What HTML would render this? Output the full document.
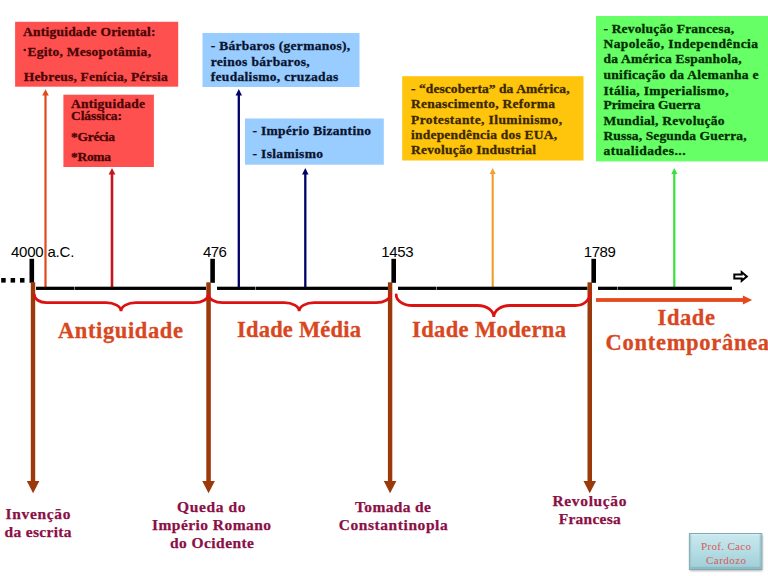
<!DOCTYPE html>
<html><head><meta charset="utf-8"><title>Linha do tempo</title>
<style>
html,body{margin:0;padding:0;background:#fff;width:768px;height:576px;overflow:hidden}
svg{display:block;position:absolute;left:0;top:0}
text{font-family:"Liberation Serif",serif;font-weight:bold;white-space:pre}
.b{font-size:13.5px;stroke-width:0.3px}
.s text{font-family:"Liberation Sans",sans-serif;font-weight:normal;font-size:15px;fill:#000}
.era{font-size:22.5px;fill:#D8481F;stroke:#D8481F;stroke-width:0.3px}
.ev{font-size:15.5px;fill:#8A1046;stroke:#8A1046;stroke-width:0.25px}
</style></head><body>
<svg width="768" height="576" viewBox="0 0 768 576">
<defs>
<linearGradient id="btn" x1="0" y1="0" x2="0" y2="1">
<stop offset="0" stop-color="#C9E9EE"/><stop offset="0.5" stop-color="#B4DDE4"/><stop offset="1" stop-color="#9FCDD6"/>
</linearGradient>
<filter id="blur" x="-20%" y="-20%" width="140%" height="140%"><feGaussianBlur stdDeviation="1.2"/></filter>
</defs>
<!-- boxes -->
<rect x="15.100" y="21.800" width="163.100" height="64.900" fill="#FF5050"/>
<rect x="63.400" y="94.700" width="90.500" height="72.300" fill="#FF5050"/>
<rect x="202.5" y="33" width="157" height="54" fill="#99CCFF"/>
<rect x="245" y="118.5" width="138.800" height="46.200" fill="#99CCFF"/>
<rect x="402.200" y="76.200" width="181.300" height="84.300" fill="#FFC40C"/>
<rect x="596" y="16" width="172" height="145.400" fill="#66FF66"/>

<!-- thin coloured arrows -->
<g fill="none" stroke-width="2.2">
<line x1="45.5" y1="94" x2="45.5" y2="288" stroke="#E2491B" stroke-width="2.200"/>
<line x1="112" y1="173" x2="112" y2="288" stroke="#C4161C" stroke-width="2.600"/>
<line x1="238.8" y1="94" x2="238.8" y2="288" stroke="#00006A" stroke-width="2.300"/>
<line x1="305.3" y1="173" x2="305.3" y2="288" stroke="#00006A" stroke-width="2.300"/>
<line x1="492.700" y1="173" x2="492.700" y2="288" stroke="#F0A030"/>
<line x1="674.3" y1="173" x2="674.3" y2="288" stroke="#38E038"/>
</g>
<path d="M45.5 89.200l3.300 6.300h-6.600z" fill="#E2491B"/>
<path d="M112 168l3.400 6.500h-6.800z" fill="#C4161C"/>
<path d="M238.8 89l3.2 6.5h-6.4z" fill="#00006A"/>
<path d="M305.3 168l3.2 6.5h-6.4z" fill="#00006A"/>
<path d="M492.700 168l3 6h-6z" fill="#F0A030"/>
<path d="M674.3 168l3 6h-6z" fill="#38E038"/>

<!-- main black timeline -->
<g fill="#000">
<rect x="36" y="286.700" width="38.300" height="3.250"/>
<rect x="74.700" y="286.700" width="131.300" height="3.250"/>
<rect x="217" y="286.700" width="38.300" height="3.250"/>
<rect x="255.700" y="286.700" width="132.300" height="3.250"/>
<rect x="398" y="286.700" width="38.300" height="3.250"/>
<rect x="436.700" y="286.700" width="150.800" height="3.250"/>
<rect x="598" y="286.700" width="19.300" height="3.250"/>
<rect x="617.700" y="286.700" width="114.300" height="3.250"/>
<!-- ticks -->
<rect x="29.5" y="258.8" width="4.6" height="24"/>
<rect x="210.3" y="258.8" width="4.6" height="24"/>
<rect x="391.4" y="258.8" width="4.6" height="24"/>
<rect x="591.4" y="258.8" width="4.6" height="24"/>
<!-- dots -->
<rect x="1.200" y="278" width="4.500" height="4.600"/>
<rect x="10.600" y="278" width="4.500" height="4.600"/>
<rect x="20" y="278" width="4.500" height="4.600"/>
</g>
<!-- hollow arrow -->
<path d="M734.300 274.400h7.400v-2.300l5.100 4.350-5.100 4.350v-2.300h-7.400z" fill="#fff" stroke="#000" stroke-width="2" stroke-linejoin="miter"/>

<!-- red arrow for contemporary age -->
<rect x="596" y="298.100" width="148.500" height="3.800" fill="#E6471B"/>
<path d="M752.200 300l-9.300-4.500v9z" fill="#E6471B"/>

<!-- brown event arrows -->
<g fill="#9B390A">
<rect x="30.800" y="282.300" width="4.400" height="200"/>
<rect x="206.300" y="282.300" width="4.500" height="200"/>
<rect x="387.900" y="282.300" width="4.400" height="200"/>
<rect x="587.500" y="282.300" width="4.500" height="200"/>
<path d="M26.800 481h12.600l-6.300 12.300z"/>
<path d="M202.250 481h12.600l-6.300 12.300z"/>
<path d="M383.800 481h12.600l-6.300 12.300z"/>
<path d="M583.450 481h12.600l-6.300 12.300z"/>
</g>

<!-- braces 1-2 (over brown) -->
<g fill="none" stroke="#DC1212" stroke-width="2.800" stroke-linecap="round">
<path d="M34.2 294.6C34.2 299 39.6 302.6 46.2 302.6H106C114.25 302.6 121 306.52 121 311.3C121 306.52 127.75 302.6 136 302.6H194.4C202.1 302.6 208.4 298.91 208.4 294.4"/>
<path d="M208.4 294.4C208.4 298.91 214.7 302.6 222.4 302.6H284.2C292.45 302.6 299.2 306.52 299.2 311.3C299.2 306.52 305.95 302.6 314.2 302.6H376.4C384.1 302.6 390.4 298.91 390.4 294.4"/>
</g>
<!-- brace 3 (under brown) -->
<g fill="none" stroke="#DC1212" stroke-width="2.800" stroke-linecap="round">
<path d="M396.2 294.8C396.2 300.74 403.4 305.5 412.2 305.5H477.8C486.6 305.5 493.8 310.6 493.8 317C493.8 310.6 501 305.5 509.8 305.5H575.5C583.5 305.5 590 300.1 590 293.4"/>
</g>
<!-- year labels -->
<g class="s">
<text x="11" y="256.600" textLength="63.300">4000 a.C.</text>
<text x="203" y="256.600" textLength="23.800">476</text>
<text x="381.300" y="256.600" textLength="32.200">1453</text>
<text x="583.700" y="256.600" textLength="32.200">1789</text>
</g>

<!-- box 1/2 text -->
<g class="b" fill="#4A0505" stroke="#4A0505">
<text x="23" y="36" textLength="132.500">Antiguidade Oriental:</text>
<circle cx="24.800" cy="50" r="1.300" stroke="none"/><text x="27.500" y="56" textLength="123.500">Egito, Mesopotâmia,</text>
<text x="23.750" y="80.750" textLength="144">Hebreus, Fenícia, Pérsia</text>
<text x="71" y="108" textLength="74">Antiguidade</text>
<text x="71" y="120" textLength="51">Clássica:</text>
<text x="71" y="140.750" textLength="44">*Grécia</text>
<text x="71" y="160.750" textLength="40">*Roma</text>
</g>
<!-- blue boxes text -->
<g class="b" fill="#0A1430" stroke="#0A1430">
<text x="210.700" y="50" textLength="139.500">- Bárbaros (germanos),</text>
<text x="210.700" y="65.500" textLength="99">reinos bárbaros,</text>
<text x="210.700" y="80.500" textLength="127.500">feudalismo, cruzadas</text>
<text x="252.500" y="134.500" textLength="118.500">- Império Bizantino</text>
<text x="252.500" y="158" textLength="70.500">- Islamismo</text>
</g>
<!-- yellow box text -->
<g class="b" fill="#3A2800" stroke="#3A2800">
<text x="411" y="93" textLength="158.500">- “descoberta” da América,</text>
<text x="411" y="108" textLength="144">Renascimento, Reforma</text>
<text x="411" y="123.700" textLength="151">Protestante, Iluminismo,</text>
<text x="411" y="138.700" textLength="146">independência dos EUA,</text>
<text x="411" y="153.700" textLength="125">Revolução Industrial</text>
</g>
<!-- green box text -->
<g class="b" fill="#002C00" stroke="#002C00">
<text x="603.500" y="33" textLength="130.500">- Revolução Francesa,</text>
<text x="603.500" y="48" textLength="154.500">Napoleão, Independência</text>
<text x="603.500" y="63" textLength="138">da América Espanhola,</text>
<text x="603.500" y="78.700" textLength="155">unificação da Alemanha e</text>
<text x="603.500" y="94.500" textLength="125">Itália, Imperialismo,</text>
<text x="603.500" y="109" textLength="97">Primeira Guerra</text>
<text x="603.500" y="124.500" textLength="121">Mundial, Revolução</text>
<text x="603.500" y="140" textLength="143">Russa, Segunda Guerra,</text>
<text x="603.500" y="155" textLength="82">atualidades...</text>
</g>

<!-- eras -->
<g class="era">
<text x="58" y="337.600" textLength="125">Antiguidade</text>
<text x="237" y="337.400" textLength="124">Idade Média</text>
<text x="412" y="337" textLength="154">Idade Moderna</text>
<text x="657.500" y="325" textLength="57.500">Idade</text>
<text x="605.600" y="350.100" textLength="163.500">Contemporânea</text>
</g>

<!-- events -->
<g class="ev">
<text x="5.500" y="519" textLength="65">Invenção</text>
<text x="4.500" y="536.500" textLength="67">da escrita</text>
<text x="177" y="512" textLength="68.500">Queda do</text>
<text x="152" y="530" textLength="119">Império Romano</text>
<text x="170" y="547.700" textLength="84">do Ocidente</text>
<text x="355" y="512" textLength="76">Tomada de</text>
<text x="338.700" y="530" textLength="109">Constantinopla</text>
<text x="552.500" y="505.700" textLength="74">Revolução</text>
<text x="558.700" y="523.700" textLength="62">Francesa</text>
</g>

<!-- button -->
<rect x="690" y="535" width="72.500" height="36" fill="#000" opacity="0.300" filter="url(#blur)"/>
<rect x="689.400" y="533.500" width="72.400" height="36" fill="url(#btn)" stroke="#82A9B0" stroke-width="1"/>
<rect x="690" y="534.200" width="71.200" height="1.200" fill="#D8F1F5" opacity="0.800"/>
<rect x="690" y="566.800" width="71.200" height="2.200" fill="#86B7C1" opacity="0.800"/>
<rect x="759.600" y="534.200" width="1.700" height="34.800" fill="#8FBEC7" opacity="0.700"/>
<rect x="690" y="534.200" width="1.300" height="34.800" fill="#9CC6CE" opacity="0.700"/>
<g style="font-weight:normal;font-size:11px" fill="#D95B5B">
<text x="701" y="550" textLength="50" style="font-weight:normal">Prof. Caco</text>
<text x="706" y="563.700" textLength="40" style="font-weight:normal">Cardozo</text>
</g>
</svg>
</body></html>
